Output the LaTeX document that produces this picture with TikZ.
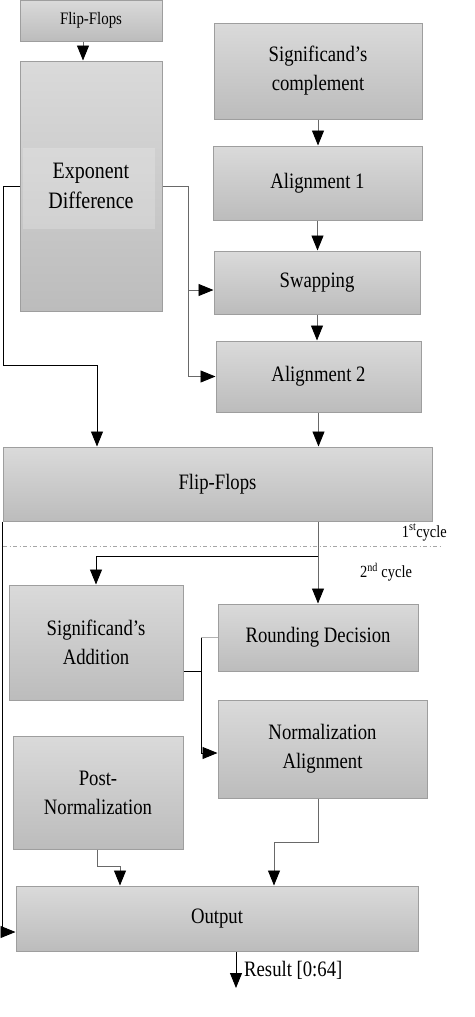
\documentclass[tikz,border=0pt]{standalone}
\usepackage{fontspec}
\setmainfont{Liberation Serif}[FakeStretch=0.85]
\usetikzlibrary{arrows.meta,positioning}

\definecolor{boxtop}{RGB}{218,218,218}
\definecolor{boxbot}{RGB}{188,188,188}
\definecolor{boxline}{RGB}{158,158,158}
\definecolor{wire}{RGB}{105,105,105}

\tikzset{
  block/.style={draw=boxline, line width=1pt, top color=boxtop, bottom color=boxbot,
    inner sep=2pt, align=center, text=black, font=\fontsize{22}{29}\selectfont},
  band/.style={path picture={\fill[white,opacity=0.2]
    ([xshift=3pt,yshift=38pt]path picture bounding box.west) rectangle
    ([xshift=-7pt,yshift=-43pt]path picture bounding box.east);}},
  wire/.style={draw=wire, line width=0.9pt},
  feed/.style={wire, -{Triangle[width=12pt,length=15pt,color=black]}},
}

\begin{document}
\begin{tikzpicture}[x=1pt,y=-1pt]
\useasboundingbox (0,0) rectangle (474,1017);
% 1st cycle blocks
\node[block, minimum width=142pt, minimum height=41pt, font=\fontsize{17.5}{19}\selectfont] (ff_top) at (91,20.5) {Flip-Flops};
\node[block, band, minimum width=142pt, minimum height=250pt, font=\fontsize{23.5}{30}\selectfont] (exp_diff) at (91,186) {Exponent\\Difference};
\node[block, minimum width=208pt, minimum height=96pt] (sig_comp) at (318,71) {Significand’s\\complement};
\node[block, minimum width=209pt, minimum height=74pt] (align_one) at (317.5,183) {Alignment 1};
\node[block, minimum width=206pt, minimum height=63pt] (swapping) at (317,282.5) {Swapping};
\node[block, minimum width=205pt, minimum height=71pt] (align_two) at (318.5,376.5) {Alignment 2};
\node[block, minimum width=429pt, minimum height=74pt] (ff_mid) at (217.5,484) {Flip-Flops};
% 2nd cycle blocks
\node[block, minimum width=174pt, minimum height=115pt] (sig_add) at (96,642.5) {Significand’s\\Addition};
\node[block, minimum width=200pt, minimum height=67pt] (rounding) at (318,637.5) {Rounding Decision};
\node[block, minimum width=209pt, minimum height=98pt] (norm_align) at (322.5,749) {Normalization\\Alignment};
\node[block, minimum width=170pt, minimum height=113pt] (post_norm) at (98,792.5) {Post-\\Normalization};
\node[block, minimum width=402pt, minimum height=65pt] (output) at (217,918.5) {Output};
% cycle border
\draw [gray!70, line width=1pt, dash pattern=on 4pt off 2.5pt on 1pt off 2.5pt] (3,546) -- (442,546);
\node[anchor=south east, inner sep=0pt, font=\fontsize{17}{19}\selectfont] (cycle_one) at (447,541) {1\textsuperscript{st}cycle};
\node[inner sep=0pt, font=\fontsize{17}{19}\selectfont] (cycle_two) at (386,572) {2\textsuperscript{nd} cycle};
% bend points
\coordinate (rail_top) at (3,365);
\coordinate (rail_bend) at (97,365);
\coordinate (fork) at (188,186);
\coordinate (split) at (318,556);
\coordinate (tee) at (201,671);
\coordinate (norm_bend) at (274,842);
\coordinate (post_bend) at (120,866);
\coordinate (result_end) at (236,988);
\coordinate (swap_in) at ([yshift=-7.5pt]swapping.west);
\coordinate (norm_in) at ([yshift=-4pt]norm_align.west);
\coordinate (out_in) at ([yshift=-13.5pt]output.west);
% 1st cycle connections
\draw [feed] ([xshift=-8pt]ff_top.south) -- ([xshift=-8pt]exp_diff.north);
\draw [feed] (sig_comp.south) -- (sig_comp.south |- align_one.north);
\draw [feed] (align_one.south) -- (align_one.south |- swapping.north);
\draw [feed] (swapping.south) -- (swapping.south |- align_two.north);
\draw [feed] (align_two.south) -- (align_two.south |- ff_mid.north);
\draw [feed, draw=black] (exp_diff.west) -| (rail_top) -- (rail_bend) -- (rail_bend |- ff_mid.north);
\draw [feed] (exp_diff.east) -| (fork |- align_two.west) -- (align_two.west);
\draw [feed] (fork |- swap_in) -- (swap_in);
% 2nd cycle connections
\draw [feed] (ff_mid.south -| split) -- (split |- rounding.north);
\draw [feed, draw=black] (split) -| (sig_add.north);
\draw [feed, draw=black] (ff_mid.south west) -- (ff_mid.south west |- out_in) -- (out_in);
\draw [wire, draw=black] ([yshift=-28.5pt]sig_add.east) -- (tee);
\draw [wire, draw=gray!60] (rounding.west -| tee) -- (rounding.west);
\draw [feed, draw=black] (rounding.west -| tee) -- (tee |- norm_in) -- (norm_in);
\draw [feed] ([xshift=-4.5pt]norm_align.south) |- (norm_bend) -- (norm_bend |- output.north);
\draw [feed] ([xshift=-1pt]post_norm.south) |- (post_bend) -- (post_bend |- output.north);
\draw [feed, draw=black] (output.south -| result_end) -- (result_end);
\node[anchor=west, inner sep=0pt, font=\fontsize{22}{24}\selectfont] (result) at (244,970) {Result [0:64]};
\end{tikzpicture}
\end{document}
